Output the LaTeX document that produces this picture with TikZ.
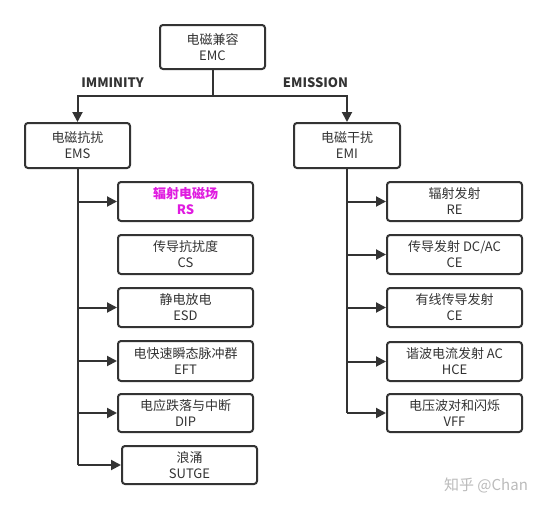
\documentclass[tikz,border=0pt]{standalone}
\usepackage{fontspec}
\setmainfont{Noto Sans CJK SC}
\usetikzlibrary{arrows.meta}
\definecolor{ln}{HTML}{333333}
\definecolor{mag}{HTML}{E01BE0}
\definecolor{wm}{HTML}{BBBBBB}
\tikzset{
  box/.style={draw=ln, line width=2pt, rounded corners=3pt, fill=white, align=center,
    text=ln, font=\fontsize{13}{16}\selectfont, inner sep=0pt},
  topbox/.style={box, minimum width=105pt, minimum height=44pt},
  subbox/.style={box, minimum width=135pt, minimum height=39pt},
  conn/.style={draw=ln, line width=2pt},
  arr/.style={conn, -{Triangle[width=10pt,length=10pt]}},
  lbl/.style={text=ln, font=\bfseries\fontsize{13}{14}\selectfont, inner sep=0pt},
}
\begin{document}
\begin{tikzpicture}[x=1pt,y=-1pt]
\useasboundingbox[fill=white] (0,0) rectangle (547,509);
\node[topbox] (emc) at (212.5,47) {电磁兼容\\EMC};
\node[topbox, minimum height=45pt] (ems) at (77.5,145.5) {电磁抗扰\\EMS};
\node[topbox, minimum height=45pt, minimum width=106pt] (emi) at (347,145.5) {电磁干扰\\EMI};
\coordinate (split) at (212.5,96);
\node[lbl] (imm) at (112.5,83) {IMMINITY};
\node[lbl] (emis) at (315.5,83) {EMISSION};
\draw[arr] (emc.south) -- (split) -| (ems.north);
\draw[arr] (split) -| (emi.north);
% left column
\node[subbox] (rs) at (185.5,201.5) {\textcolor{mag}{\bfseries 辐射电磁场}\\\textcolor{mag}{\bfseries RS}};
\node[subbox] (cs) at (185.5,254.5) {传导抗扰度\\CS};
\node[subbox] (esd) at (185.5,307.5) {静电放电\\ESD};
\node[subbox, minimum height=40pt] (eft) at (185.5,361) {电快速瞬态脉冲群\\EFT};
\node[subbox, minimum height=38pt] (dip) at (185.5,413) {电应跌落与中断\\DIP};
\node[subbox, minimum height=38pt] (sur) at (189.5,465) {浪涌\\SUTGE};
\coordinate (lend) at (ems.south |- sur.west);
\draw[conn] (ems.south) -- (lend);
\foreach \n in {rs,esd,eft,dip}{\draw[arr] (ems.south |- \n.west) -- (\n.west);}
\draw[arr] (lend) -- (sur.west);
% right column
\node[subbox] (re) at (454.5,201.5) {辐射发射\\RE};
\node[subbox] (ce1) at (454.5,254.5) {传导发射 DC/AC\\CE};
\node[subbox] (ce2) at (454.5,307.5) {有线传导发射\\CE};
\node[subbox] (hce) at (454.5,361.5) {谐波电流发射 AC\\HCE};
\node[subbox, minimum height=38pt] (vff) at (454.5,413) {电压波对和闪烁\\VFF};
\coordinate (rend) at (emi.south |- vff.west);
\draw[conn] (emi.south) -- (rend);
\foreach \n in {re,ce1,ce2,hce}{\draw[arr] (emi.south |- \n.west) -- (\n.west);}
\draw[arr] (rend) -- (vff.west);
\node[text=wm, font=\fontsize{15}{16}\selectfont, inner sep=0pt] (wmk) at (486,485) {知乎 @Chan};
\end{tikzpicture}
\end{document}
